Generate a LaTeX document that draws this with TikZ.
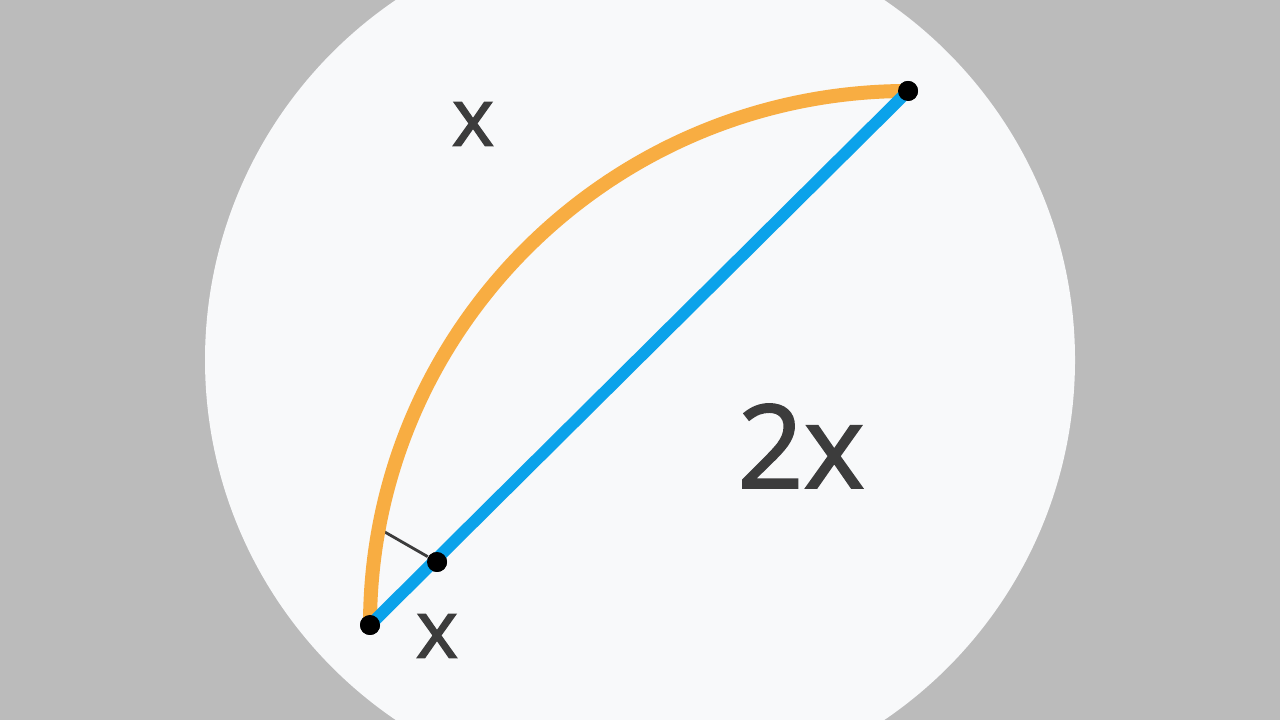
\documentclass[tikz,border=0pt]{standalone}
\usepackage{fontspec}
\setmainfont{Open Sans}
\newfontfamily\labelfont{Open Sans}[FakeBold=1.6]
\usetikzlibrary{calc}
\definecolor{bg}{HTML}{BBBBBB}
\definecolor{disc}{HTML}{F8F9FA}
\definecolor{arcol}{HTML}{F8AD42}
\definecolor{chordcol}{HTML}{0BA2EA}
\definecolor{ink}{HTML}{3C3C3C}
\begin{document}
\begin{tikzpicture}[main/.style = {draw=none, circle, fill=black, inner sep=0pt, minimum width=2mm},
		letter/.style={inner sep=0pt, text=ink, font=\labelfont\fontsize{23}{27}\selectfont},
		big/.style={letter, font=\labelfont\fontsize{33}{38}\selectfont}]
		
		\useasboundingbox (0,0) rectangle (12.8,7.2);
		\fill[bg] (0,0) rectangle (12.8,7.2);
		\begin{scope}
			\clip (0,0) rectangle (12.8,7.2);
			\fill[disc] (6.4,3.6) circle (4.35);
		\end{scope}
		
		\coordinate (c) at (9.08,0.95);
		\coordinate (f) at ($(c)+(169.6:5.38 and 5.34)$);
		
		\node[main] (1) at (3.70,0.95) {};
		\node[main] (2) at (9.08,6.29) {};
		\node[main] (3) at (4.37,1.58) {};
		
		\draw[ink, line width=0.8pt] (f) -- (3);
		\draw[arcol, line width=1.4mm] (1.center) arc[start angle=180, end angle=90, x radius=5.38, y radius=5.34];
		\draw[chordcol, line width=1.2mm] (1.center) -- (2.center);
		
		\node[main] at (1) {};
		\node[main] at (2) {};
		\node[main] at (3) {};
		
		\node[letter] (p) at (4.73,5.96) {x};
		\node[big] (q) at (8.01,2.74) {2x};
		\node[letter] (r) at (4.37,0.84) {x};
	\end{tikzpicture}
\end{document}
